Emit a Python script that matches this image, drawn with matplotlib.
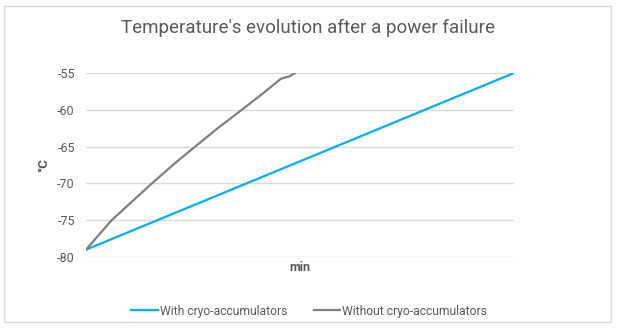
import matplotlib.pyplot as plt
from matplotlib.patches import Rectangle

# == dados ==
t_com = [0, 100]
temp_com = [-79, -55]

t_sem = [0, 3, 6, 10.5, 15.4, 20.5, 25.5, 31, 36.4, 41.5, 45.5, 46.5, 47.4, 48.8]
temp_sem = [-79, -77.0, -75, -72.6, -70, -67.4, -65, -62.4, -60, -57.7, -55.8, -55.6, -55.5, -55]

rotulos = ['With cryo-accumulators', 'Without cryo-accumulators']
yticks = [-80, -75, -70, -65, -60, -55]

azul = '#00b0f0'
cinza = '#7f7f7f'
texto = '#595959'

plt.rcParams['font.family'] = ['Roboto', 'DejaVu Sans']

fig = plt.figure(figsize=(6.18, 3.29), dpi=100)
fig.patches.append(Rectangle((3.5 / 618, 1 - 321.5 / 329), 607.5 / 618, 316 / 329,
                             transform=fig.transFigure, fill=False,
                             edgecolor='#d9d9d9', linewidth=1))

ax = fig.add_axes([86 / 618, 1 - 257 / 329, 428 / 618, 184 / 329])
ax.plot(t_com, temp_com, color=azul, linewidth=1.6, label=rotulos[0])
ax.plot(t_sem, temp_sem, color=cinza, linewidth=1.6, label=rotulos[1])

ax.set_xlim(0, 100)
ax.set_ylim(-80, -55)
ax.set_yticks(yticks)
ax.set_yticklabels([str(v) for v in yticks])
ax.set_xticks([])
ax.tick_params(axis='y', length=0, pad=8, labelsize=9, labelcolor=texto)
ax.grid(axis='y', color='#d9d9d9', linewidth=1)
ax.set_axisbelow(True)
for s in ax.spines.values():
    s.set_visible(False)

ax.set_xlabel('min', fontsize=9, fontweight='bold', color=texto, labelpad=3)
ax.set_ylabel('°C', fontsize=9.5, fontweight='bold', color=texto, labelpad=5)

fig.text(308 / 618, 1 - 28 / 329, "Temperature's evolution after a power failure",
         ha='center', va='center', fontsize=13.5, color=texto)

fig.legend(loc='center', bbox_to_anchor=(309 / 618, 1 - 311 / 329), ncol=2,
           frameon=False, fontsize=8.7, handlelength=2.2, handletextpad=0.15,
           columnspacing=2.2, labelcolor=texto)

fig.savefig('out.png', dpi=100)
